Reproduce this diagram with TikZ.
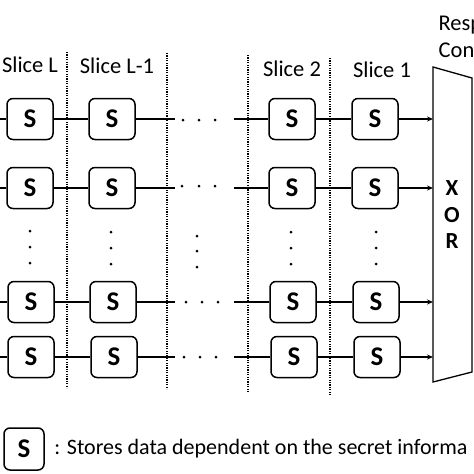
\documentclass[tikz,border=0pt]{standalone}
\usepackage{fontspec}
\setmainfont{Carlito}
\usetikzlibrary{positioning,arrows.meta}
\begin{document}
\begin{tikzpicture}
	[x=1pt, y=-1pt,
	line width=1.3pt,
	every node/.style = {font=\fontsize{22.5}{26}\selectfont},
	sbox/.style = {draw, line width=1.5pt, rounded corners=6pt, minimum width=46pt, minimum height=41pt, inner sep=0pt, font=\fontsize{27}{30}\selectfont\bfseries},
	slice/.style = {line width=1.5pt, dash pattern=on 1.2pt off 1.2pt},
	label/.style = {inner sep=0pt},
	arr/.style = {-{Stealth[length=6pt,width=5pt]}}]
\useasboundingbox (0,0) rectangle (474,474);
\coordinate (edge) at (0,0);
\coordinate (gapl) at (175,0);
\coordinate (gapr) at (234,0);
\coordinate (xin) at (433,0);
% slices
\node[label] (sl) at (30,65) {Slice L};
\node[label] (sl1) at (117,66) {Slice L-1};
\node[label] (s2) at (292,69) {Slice 2};
\node[label] (s1) at (382,70) {Slice 1};
\draw[slice] (67,52) -- (67,388);
\draw[slice] (167,53) -- (167,389);
\draw[slice] (248,55) -- (248,392);
\draw[slice] (330,58) -- (330,395);
% rows
\node[sbox] (s11) at (30,119) {S};
\node[sbox] (s12) at (112,119) {S};
\node[sbox] (s13) at (292,119) {S};
\node[sbox] (s14) at (375,119) {S};
\node[sbox] (s21) at (30,188) {S};
\node[sbox] (s22) at (112,188) {S};
\node[sbox] (s23) at (292,188) {S};
\node[sbox] (s24) at (375,188) {S};
\node[sbox] (s31) at (31,302) {S};
\node[sbox] (s32) at (113,302) {S};
\node[sbox] (s33) at (293,302) {S};
\node[sbox] (s34) at (376,302) {S};
\node[sbox] (s41) at (31,357) {S};
\node[sbox] (s42) at (114,357) {S};
\node[sbox] (s43) at (294,357) {S};
\node[sbox] (s44) at (377,357) {S};
\draw (s11.west -| edge) -- (s11); \draw (s11) -- (s12); \draw (s12.east) -- (s12.east -| gapl);
\draw (s13.west -| gapr) -- (s13); \draw (s13) -- (s14); \draw[arr] (s14.east) -- (s14.east -| xin);
\draw (s21.west -| edge) -- (s21); \draw (s21) -- (s22); \draw (s22.east) -- (s22.east -| gapl);
\draw (s23.west -| gapr) -- (s23); \draw (s23) -- (s24); \draw[arr] (s24.east) -- (s24.east -| xin);
\draw (s31.west -| edge) -- (s31); \draw (s31) -- (s32); \draw (s32.east) -- (s32.east -| gapl);
\draw (s33.west -| gapr) -- (s33); \draw (s33) -- (s34); \draw[arr] (s34.east) -- (s34.east -| xin);
\draw (s41.west -| edge) -- (s41); \draw (s41) -- (s42); \draw (s42.east) -- (s42.east -| gapl);
\draw (s43.west -| gapr) -- (s43); \draw (s43) -- (s44); \draw[arr] (s44.east) -- (s44.east -| xin);
% dots
\fill (183,120) circle (1.5pt) (199,120) circle (1.5pt) (215,120) circle (1.5pt);
\fill (182,186) circle (1.5pt) (199,186) circle (1.5pt) (215,186) circle (1.5pt);
\fill (186,302) circle (1.5pt) (202,302) circle (1.5pt) (218,302) circle (1.5pt);
\fill (184,357) circle (1.5pt) (200,357) circle (1.5pt) (216,357) circle (1.5pt);
\fill (30,231) circle (1.5pt) (30,247) circle (1.5pt) (30,263) circle (1.5pt);
\fill (111,232) circle (1.5pt) (111,248) circle (1.5pt) (111,264) circle (1.5pt);
\fill (197,236) circle (1.5pt) (197,251) circle (1.5pt) (197,267) circle (1.5pt);
\fill (291,232) circle (1.5pt) (291,248) circle (1.5pt) (291,264) circle (1.5pt);
\fill (376,232) circle (1.5pt) (376,248) circle (1.5pt) (376,264) circle (1.5pt);
% compactor
\draw (433,67) -- (472,78) -- (472,372) -- (433,382) -- cycle;
\node[label, align=center, font=\fontsize{23}{26.5}\selectfont\bfseries] (xor) at (452,215) {X\\O\\R};
\node[label, anchor=base west] (resp) at (438,30) {Resp};
\node[label, anchor=base west] (con) at (438,57) {Con};
% key
\node[sbox, minimum width=40pt, minimum height=42pt] (key) at (24,449) {S};
\node[label, right=9pt of key, font=\fontsize{22}{26}\selectfont] (keytext) {: Stores data dependent on the secret informa};
\end{tikzpicture}
\end{document}
